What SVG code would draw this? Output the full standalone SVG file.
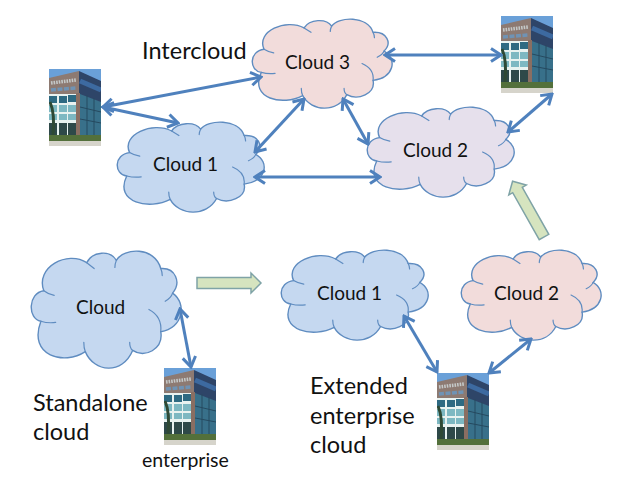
<svg xmlns="http://www.w3.org/2000/svg" width="638" height="478" viewBox="0 0 638 478">
<style>
text{font-family:Lato,"Liberation Sans",sans-serif;fill:#111}
.s{font-size:19px}
.l{font-size:23.5px}
.e{font-size:19.5px}
.body{stroke:#5f8cc0;stroke-width:1.4;vector-effect:non-scaling-stroke;stroke-linejoin:round}
.curl{fill:none;stroke:#5f8cc0;stroke-width:1.2;vector-effect:non-scaling-stroke;stroke-linecap:round}
.blue{fill:#c5d8f0}.pink{fill:#f2dcdb}.lav{fill:#e6e0ec}
.conn{fill:none;stroke:#4f81bd;stroke-width:3;marker-start:url(#ah);marker-end:url(#ah)}
.big{fill:#d6e4bf;stroke:#7fa3a6;stroke-width:1.5}
</style>
<defs>
<filter id="soft" x="-5%" y="-5%" width="110%" height="110%"><feGaussianBlur stdDeviation="0.55"/></filter>
<marker id="ah" viewBox="-12 -8 14 16" refX="0" refY="0" markerWidth="14" markerHeight="16" markerUnits="userSpaceOnUse" orient="auto-start-reverse">
<path d="M-10,-6.5 L0,0 L-10,6.5" fill="none" stroke="#4f81bd" stroke-width="3"/>
</marker>
<g id="cl">
<path class="body" d="M8,34 C2,14 24,-1 37,10 C41,0 53,-1 57,8 C62,-3 83,-4 87,15 C97,14 101,27 95,36 C105,45 102,66 87,69 C89,84 76,92 68,85 C61,106 42,104 36,86 C22,98 -3,90 6,60 C-3,58 -3,36 8,34 Z"/>
<path class="curl" d="M8,34 Q11,37 15,38 M37,10 Q39,12 42,15 M57,8 Q56,11 56,14 M87,15 Q88,18 88,21 M95,36 Q94,40 90,43 M79,50 Q88,56 87,69 M68,85 Q66,83 66,78 M36,86 Q35,83 35,78 M6,60 Q11,62 16,61"/>
</g>
<symbol id="bld" viewBox="0 0 52 77" width="52" height="77">
<rect width="52" height="77" fill="#6aa0d8"/>
<g filter="url(#soft)">
<polygon points="0,9 30,2 30,68 0,68" fill="#8d7a72"/>
<polygon points="30,2 52,12 52,68 30,68" fill="#2f4468"/>
<path d="M2,14 L27,11" stroke="#c4c8c8" stroke-width="3.5" stroke-dasharray="1.6 1"/>
<path d="M2,21 L27,19" stroke="#6f93b4" stroke-width="3.5" stroke-dasharray="5 1.5"/>
<rect x="0" y="25" width="27" height="43" fill="#e8f2f0"/>
<g fill="#2f6b82">
<rect x="0" y="27" width="8" height="7"/><rect x="10" y="27" width="8" height="7"/><rect x="19" y="26" width="8" height="7"/>
</g>
<g fill="#7db8c2">
<rect x="0" y="36" width="8" height="7"/><rect x="10" y="36" width="8" height="7"/><rect x="19" y="36" width="8" height="7"/>
<rect x="0" y="45" width="8" height="6"/><rect x="10" y="45" width="8" height="6"/><rect x="19" y="45" width="8" height="6"/>
</g>
<g fill="#2d4a48">
<rect x="0" y="54" width="8" height="13"/><rect x="10" y="54" width="8" height="13"/><rect x="19" y="54" width="8" height="13"/>
</g>
<path d="M1,33 Q6,44 4,66" stroke="#2f4a34" stroke-width="3" fill="none"/>
<polygon points="31,25 52,33 52,68 31,68" fill="#38708a"/>
<path d="M31,38 L52,43 M31,50 L52,54 M38,26 V68 M45,29 V68" stroke="#264a60" stroke-width="1"/>
<path d="M31,12 L52,21" stroke="#3c6aa0" stroke-width="5"/>
<rect x="27" y="24" width="4" height="44" fill="#8a6e62"/>
<rect y="66" width="52" height="6" fill="#53703a"/>
<rect y="72" width="52" height="5" fill="#d6d4cb"/>
</g>
</symbol>
<path id="bigarrow" d="M0,-5.5 H54 V-10 L64,0 L54,10 V5.5 H0 Z"/>
</defs>

<g id="arrow-right"><use href="#bigarrow" class="big" transform="translate(197,283)"/></g>
<g id="arrow-up"><use href="#bigarrow" class="big" transform="translate(544,237) rotate(-119.4)"/></g>

<g id="cloud3"><use href="#cl" class="pink" transform="translate(253,19) scale(1.38,.89)"/><text class="s" x="285" y="69">Cloud 3</text></g>
<g id="cloud1-top"><use href="#cl" class="blue" transform="translate(118,122) scale(1.45,.9)"/><text class="s" x="153" y="171">Cloud 1</text></g>
<g id="cloud2-top"><use href="#cl" class="lav" transform="translate(368,107) scale(1.45,.9)"/><text class="s" x="403" y="157">Cloud 2</text></g>
<g id="cloud-standalone"><use href="#cl" class="blue" transform="translate(32,251) scale(1.48,1.17)"/><text class="s" x="76" y="314">Cloud</text></g>
<g id="cloud1-bottom"><use href="#cl" class="blue" transform="translate(282,250) scale(1.45,.9)"/><text class="s" x="317" y="300">Cloud 1</text></g>
<g id="cloud2-bottom"><use href="#cl" class="pink" transform="translate(462,250) scale(1.38,.9)"/><text class="s" x="494" y="300">Cloud 2</text></g>

<g id="building-left"><use href="#bld" x="49" y="69"/></g>
<g id="building-top-right"><use href="#bld" x="501" y="16"/></g>
<g id="building-standalone"><use href="#bld" x="164" y="368"/></g>
<g id="building-extended"><use href="#bld" x="437" y="373"/></g>

<g id="connectors">
<path class="conn" d="M103,107 L261,77"/>
<path class="conn" d="M103,107 L178,123"/>
<path class="conn" d="M304,99 L255,152"/>
<path class="conn" d="M255,177 L380,177"/>
<path class="conn" d="M343,99 L368,144"/>
<path class="conn" d="M385,55 L501,55"/>
<path class="conn" d="M552,94 L508,132"/>
<path class="conn" d="M180,309 L191,367"/>
<path class="conn" d="M404,316 L437,372"/>
<path class="conn" d="M531,339 L489,373"/>
</g>

<g id="labels">
<text class="l" x="142" y="59">Intercloud</text>
<text class="l" x="33" y="411">Standalone</text>
<text class="l" x="33" y="440">cloud</text>
<text class="e" x="142" y="467">enterprise</text>
<text class="l" x="310" y="394">Extended</text>
<text class="l" x="310" y="424">enterprise</text>
<text class="l" x="310" y="453">cloud</text>
</g>
</svg>
